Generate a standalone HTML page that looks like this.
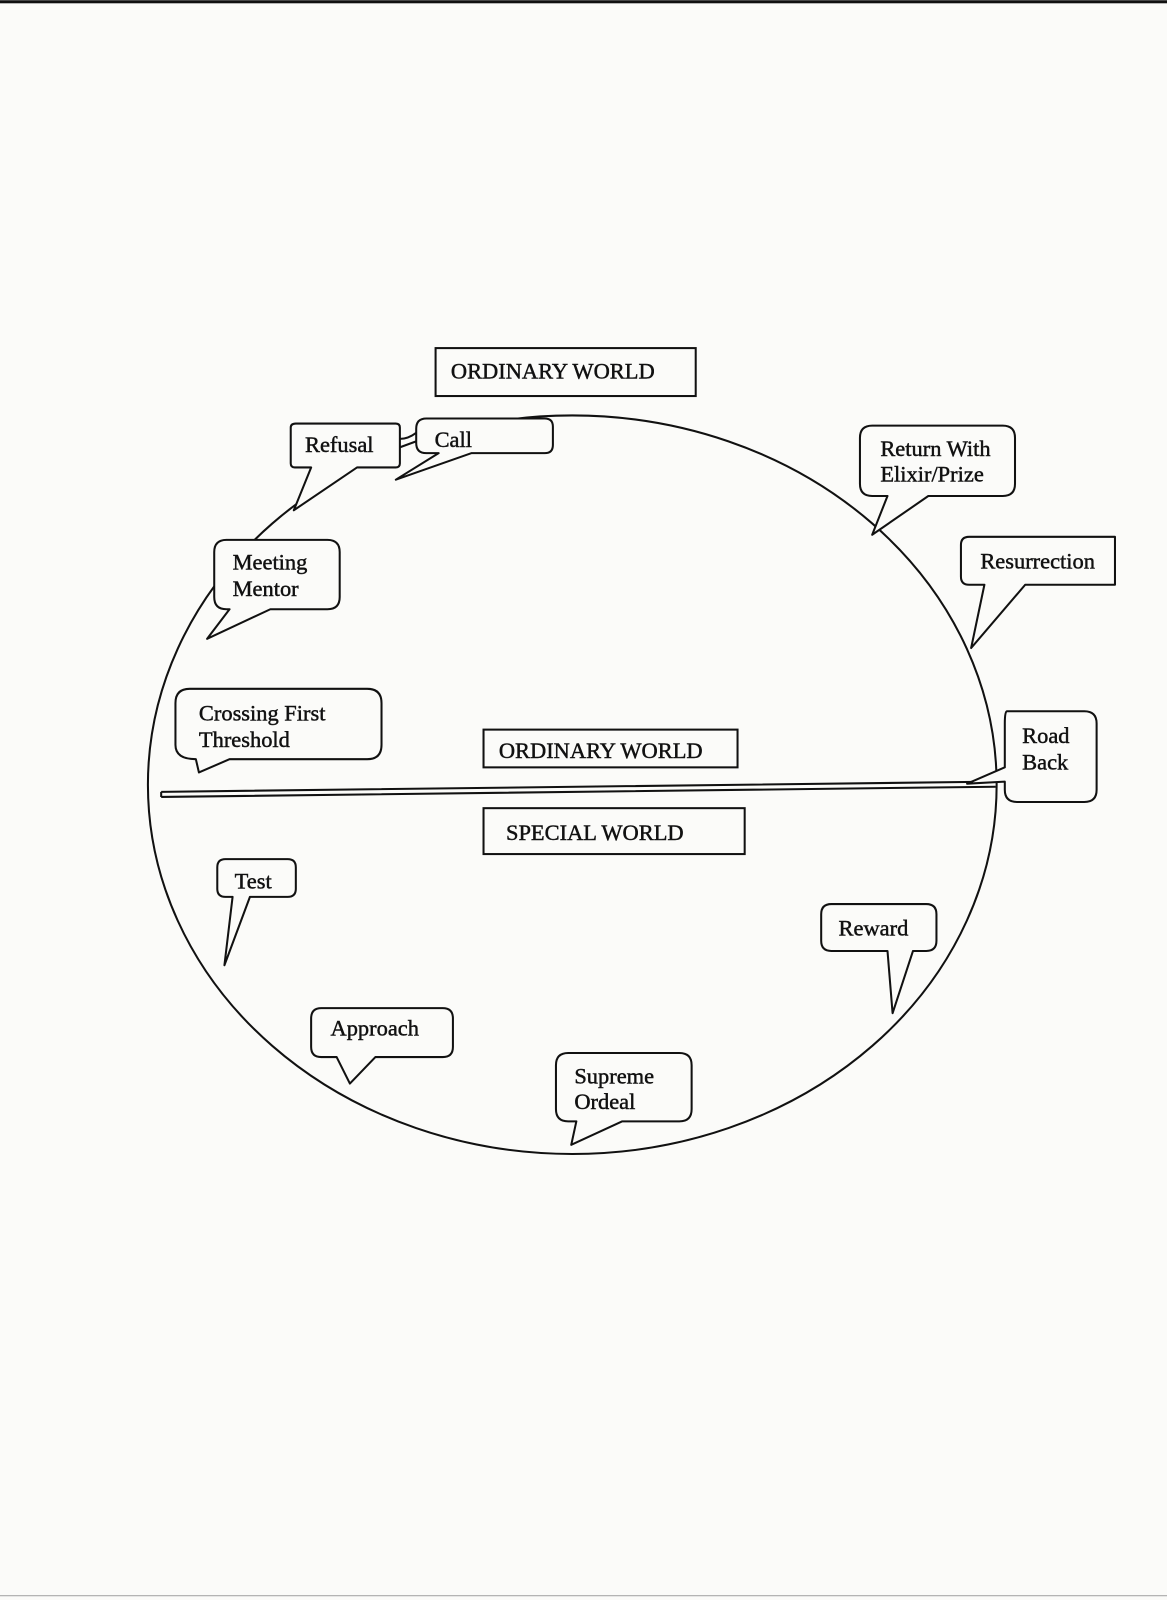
<!DOCTYPE html>
<html><head><meta charset="utf-8"><style>
html,body{margin:0;padding:0;background:#fbfbf9;}
svg{display:block;}
text{font-family:"Liberation Serif",serif;font-size:22px;fill:#111;stroke:#111;stroke-width:0.45;}
</style></head><body>
<svg width="1167" height="1600" viewBox="0 0 1144 1568" xmlns="http://www.w3.org/2000/svg">
<rect x="0" y="0" width="1144" height="1568" fill="#fbfbf9"/>
<rect x="0" y="0" width="1144" height="3" fill="#111"/>
<line x1="0" y1="1564" x2="1144" y2="1564" stroke="#aaa" stroke-width="1"/>
<g fill="none" stroke="#111" stroke-width="2">
<ellipse cx="561" cy="769" rx="416" ry="362"/>
<path d="M158 776 L976 766 M158 781 L976 771 M158 776 L158 781"/>
<rect x="427" y="341" width="255" height="47"/>
<rect x="474" y="715" width="249" height="37"/>
<rect x="474" y="792" width="256" height="45"/>
</g>
<g fill="#fbfbf9" stroke="#111" stroke-width="2" stroke-linejoin="round">
<path d="M290 415 H388 Q392 415 392 419 V454 Q392 458 388 458 H350 L288 500 L305 458 H289 Q285 458 285 454 V419 Q285 415 290 415 Z"/>
<path d="M418 410 H534 Q542 410 542 418 V436 Q542 444 534 444 H462 L388 470 L430 444 H418 Q408 444 408 434 V420 Q408 410 418 410 Z"/>
<path d="M392 430 Q400 430 408 424" fill="none"/>
<path d="M855 417 H983 Q995 417 995 429 V474 Q995 486 983 486 H910 L855 524 L870 486 H855 Q843 486 843 474 V429 Q843 417 855 417 Z"/>
<path d="M950 526 H1093 V573 H1005 L952 635 L965 573 H950 Q942 573 942 565 V534 Q942 526 950 526 Z"/>
<path d="M222 529 H321 Q333 529 333 541 V585 Q333 597 321 597 H265 L203 626 L225 597 H222 Q210 597 210 585 V541 Q210 529 222 529 Z"/>
<path d="M186 675 H360 Q374 675 374 689 V730 Q374 744 360 744 H225 L195 757 L192 744 Q172 744 172 730 V689 Q172 675 186 675 Z"/>
<path d="M987 697 H1063 Q1075 697 1075 709 V774 Q1075 786 1063 786 H997 Q985 786 985 774 V766 L948 768 L985 752 V709 Q985 697 987 697 Z"/>
<path d="M221 842 H282 Q290 842 290 850 V871 Q290 879 282 879 H245 L220 946 L228 879 H221 Q213 879 213 871 V850 Q213 842 221 842 Z"/>
<path d="M815 886 H908 Q918 886 918 896 V922 Q918 932 908 932 H895 L875 993 L870 932 H815 Q805 932 805 922 V896 Q805 886 815 886 Z"/>
<path d="M315 988 H434 Q444 988 444 998 V1026 Q444 1036 434 1036 H368 L343 1062 L330 1036 H315 Q305 1036 305 1026 V998 Q305 988 315 988 Z"/>
<path d="M557 1032 H666 Q678 1032 678 1044 V1087 Q678 1099 666 1099 H610 L560 1122 L565 1099 H557 Q545 1099 545 1087 V1044 Q545 1032 557 1032 Z"/>
</g>
<text x="442" y="371">ORDINARY WORLD</text>
<text x="489" y="743">ORDINARY WORLD</text>
<text x="496" y="823">SPECIAL WORLD</text>
<text x="299" y="443">Refusal</text>
<text x="426" y="438">Call</text>
<text x="863" y="447">Return With</text>
<text x="863" y="472">Elixir/Prize</text>
<text x="961" y="557">Resurrection</text>
<text x="228" y="558">Meeting</text>
<text x="228" y="584">Mentor</text>
<text x="195" y="706">Crossing First</text>
<text x="195" y="732">Threshold</text>
<text x="1002" y="728">Road</text>
<text x="1002" y="754">Back</text>
<text x="230" y="871">Test</text>
<text x="822" y="917">Reward</text>
<text x="324" y="1015">Approach</text>
<text x="563" y="1062">Supreme</text>
<text x="563" y="1087">Ordeal</text>
</svg>
</body></html>
